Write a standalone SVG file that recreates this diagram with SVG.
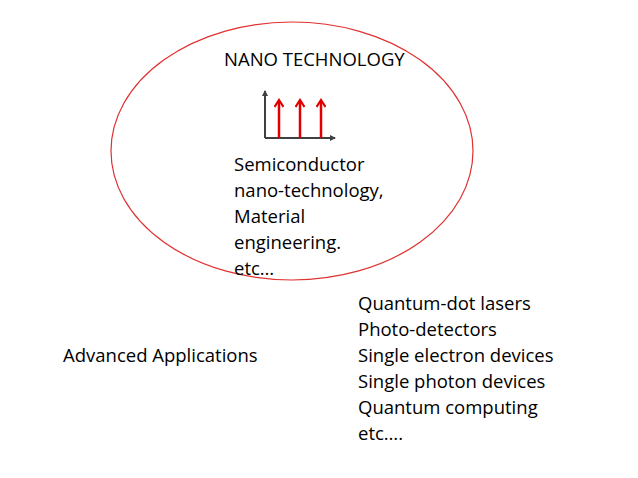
<svg xmlns="http://www.w3.org/2000/svg" width="638" height="478" viewBox="0 0 638 478">
<style>
text{font-family:"Open Sans","Liberation Sans",sans-serif;font-size:18.5px;fill:#000}
.ax{stroke:#404040;stroke-width:2;fill:none}
.rd{stroke:#e00000;stroke-width:2.5;fill:none}
</style>
<defs>
<marker id="ka" markerWidth="6" markerHeight="6" refX="5" refY="3" orient="auto" markerUnits="userSpaceOnUse"><path d="M0,0 L6,3 L0,6 z" fill="#404040"/></marker>
<marker id="ra" markerWidth="10" markerHeight="10" refX="7" refY="5" orient="auto" markerUnits="userSpaceOnUse"><path d="M1,0.5 L8,5 L1,9.5" fill="none" stroke="#e00000" stroke-width="2.2"/></marker>
</defs>
<g id="nano">
<ellipse cx="292" cy="151" rx="181" ry="129" fill="none" stroke="#e03030" stroke-width="1.2"/>
<text x="224" y="66">NANO TECHNOLOGY</text>
<g id="plot">
<path class="ax" d="M265,138 V91" marker-end="url(#ka)"/>
<path class="ax" d="M265,138 H335" marker-end="url(#ka)"/>
<path class="rd" d="M279,138 V101" marker-end="url(#ra)"/>
<path class="rd" d="M300,138 V101" marker-end="url(#ra)"/>
<path class="rd" d="M321,138 V101" marker-end="url(#ra)"/>
</g>
<text x="234" y="171">Semiconductor</text>
<text x="234" y="197">nano-technology,</text>
<text x="234" y="223">Material</text>
<text x="234" y="249">engineering.</text>
<text x="234" y="275">etc…</text>
</g>
<g id="advanced">
<text x="63" y="362">Advanced Applications</text>
</g>
<g id="apps">
<text x="358" y="310">Quantum-dot lasers</text>
<text x="358" y="336">Photo-detectors</text>
<text x="358" y="362">Single electron devices</text>
<text x="358" y="388">Single photon devices</text>
<text x="358" y="414">Quantum computing</text>
<text x="358" y="440">etc….</text>
</g>
<g id="connectors"></g>
</svg>
